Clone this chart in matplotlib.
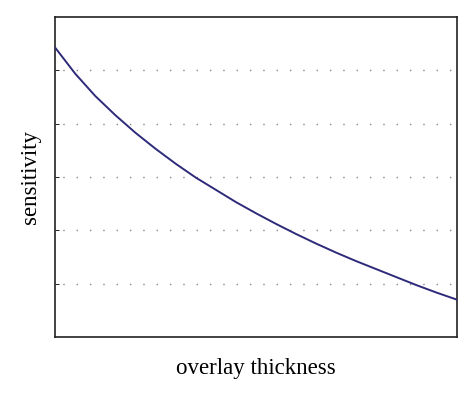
import matplotlib
matplotlib.use("Agg")
import matplotlib.pyplot as plt

# values (axis has no numbers, so arbitrary units)
thickness = [0.00, 0.05, 0.10, 0.15, 0.20, 0.25, 0.30, 0.35, 0.40, 0.45, 0.50,
             0.55, 0.60, 0.65, 0.70, 0.75, 0.80, 0.85, 0.90, 0.95, 1.00]
sensitivity = [5.43, 4.94, 4.52, 4.16, 3.83, 3.53, 3.25, 2.99, 2.76, 2.53, 2.32,
               2.12, 1.93, 1.75, 1.58, 1.42, 1.27, 1.12, 0.97, 0.83, 0.70]
grid_levels = [1, 2, 3, 4, 5]

plt.rcParams['font.family'] = ['Liberation Serif', 'DejaVu Serif']

fig = plt.figure(figsize=(4.74, 3.95), dpi=100)
ax = fig.add_axes([55/474, 1 - 337/395, 402/474, 320/395])

for g in grid_levels:
    ax.axhline(g, color='#888888', lw=1.0, linestyle=(4, (1, 8.6)), zorder=1)

ax.plot(thickness, sensitivity, color='#2e2a7a', lw=1.4, zorder=3)

ax.set_xlim(0, 1)
ax.set_ylim(0, 6)
ax.set_yticks(grid_levels)
ax.set_xticks([])
ax.tick_params(axis='y', direction='in', length=3, width=0.6, labelleft=False)
for s in ax.spines.values():
    s.set_linewidth(1.2)
    s.set_color('#222222')

ax.set_xlabel('overlay thickness', fontsize=16.5, labelpad=15)
ax.set_ylabel('sensitivity', fontsize=16.5, labelpad=10)

fig.savefig("out.png", dpi=100)
